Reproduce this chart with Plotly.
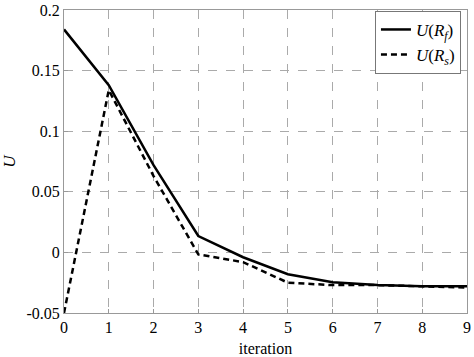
import plotly.graph_objects as go

iterations = [0, 1, 2, 3, 4, 5, 6, 7, 8, 9]
u_rf = [0.184, 0.138, 0.072, 0.0135, -0.004, -0.018, -0.0247, -0.027, -0.028, -0.028]
u_rs = [-0.05, 0.134, 0.063, -0.0017, -0.008, -0.025, -0.027, -0.027, -0.028, -0.029]
x_ticks = list(range(10))
y_ticks = [-0.05, 0, 0.05, 0.1, 0.15, 0.2]
y_tick_labels = ["-0.05", "0", "0.05", "0.1", "0.15", "0.2"]

font = "Times New Roman, Tinos, Liberation Serif, Noto Serif, DejaVu Serif, FreeSerif, serif"

fig = go.Figure()
fig.add_trace(go.Scatter(x=iterations, y=u_rf, mode="lines",
                         line=dict(color="black", width=2.5, dash="solid"),
                         name="<i>U</i>(<i>R</i><sub><i>f</i></sub>)"))
fig.add_trace(go.Scatter(x=iterations, y=u_rs, mode="lines",
                         line=dict(color="black", width=2.5, dash="6px,4px"),
                         name="<i>U</i>(<i>R</i><sub><i>s</i></sub>)"))

axis_common = dict(showline=True, linecolor="#999999", linewidth=1, mirror=True,
                   showgrid=True, gridcolor="#aaaaaa", griddash="dash", gridwidth=1,
                   zeroline=False, ticks="inside", ticklen=4, tickcolor="#999999",
                   ticklabeloverflow="allow", automargin=False,
                   tickfont=dict(family=font, size=16, color="black"))

fig.update_layout(
    width=474, height=357,
    margin=dict(l=64, r=7, t=10, b=44),
    paper_bgcolor="white", plot_bgcolor="white",
    font=dict(family=font, size=16, color="black"),
    xaxis=dict(range=[0, 9], tickvals=x_ticks,
               title=dict(text="iteration", font=dict(family=font, size=16), standoff=8),
               **axis_common),
    yaxis=dict(range=[-0.05, 0.2], tickvals=y_ticks, ticktext=y_tick_labels,
               title=dict(text="<i>U</i>", font=dict(family=font, size=17), standoff=10),
               **axis_common),
    legend=dict(x=0.985, y=0.997, xanchor="right", yanchor="top",
                bgcolor="white", bordercolor="#777777", borderwidth=1,
                font=dict(family=font, size=17), tracegroupgap=4, itemwidth=30,
                valign="middle"),
    showlegend=True,
)

fig.write_html("out.html", config={"displayModeBar": False},
               post_script="document.body.style.margin='0';document.body.style.overflow='hidden';")
